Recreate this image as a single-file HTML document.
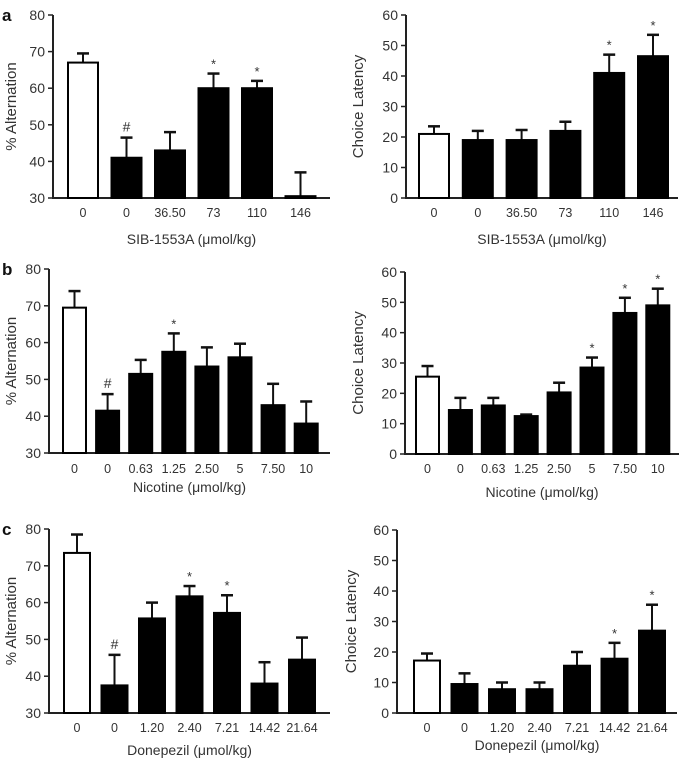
<!DOCTYPE html>
<html><head><meta charset="utf-8"><style>
body{margin:0;background:#fff;}
svg{display:block;font-family:"Liberation Sans",Arial,sans-serif;}
</style></head><body>
<svg id="fig" width="685" height="759" viewBox="0 0 685 759"></svg>
<script>
// Panel a
const aCats=["0","0","36.50","73","110","146"];
const aAltVals=[67,41,43,60,60,30.5];
const aAltErr=[69.5,46.5,48,64,62,37];
const aAltMarks=["","#","","*","*",""];
const aLatVals=[21,19,19,22,41,46.5];
const aLatErr=[23.5,22,22.3,25,47,53.5];
const aLatMarks=["","","","","*","*"];
// Panel b
const bCats=["0","0","0.63","1.25","2.50","5","7.50","10"];
const bAltVals=[69.5,41.5,51.5,57.5,53.5,56,43,38];
const bAltErr=[74,46,55.3,62.5,58.7,59.7,48.8,44];
const bAltMarks=["","#","","*","","","",""];
const bLatVals=[25.5,14.5,16,12.5,20.3,28.5,46.5,49];
const bLatErr=[29,18.5,18.5,13,23.5,31.8,51.5,54.5];
const bLatMarks=["","","","","","*","*","*"];
// Panel c
const cCats=["0","0","1.20","2.40","7.21","14.42","21.64"];
const cAltVals=[73.5,37.5,55.7,61.7,57.2,38,44.5];
const cAltErr=[78.5,45.8,60,64.5,62,43.8,50.5];
const cAltMarks=["","#","*".slice(1),"*","*","",""];
const cLatVals=[17.2,9.5,7.8,7.8,15.5,17.8,27];
const cLatErr=[19.5,13,10,10,20,23,35.5];
const cLatMarks=["","","","","","*","*"];
const altTicks=[30,40,50,60,70,80];
const latTicks=[0,10,20,30,40,50,60];

const NS="http://www.w3.org/2000/svg";
const svg=document.getElementById('fig');
function mk(tag,attrs,parent){const e=document.createElementNS(NS,tag);for(const k in attrs)e.setAttribute(k,attrs[k]);(parent||svg).appendChild(e);return e;}

function panel(p){
  const g=mk('g',{});
  
  
  const ymin=p.ticks[0],ymax=p.ticks[p.ticks.length-1];
  const yS=v=>p.bottom-(v-ymin)/(ymax-ymin)*(p.bottom-p.top);
  const xS=i=>p.x0+i*p.step;
  // axes
  const ya=mk('line',{x1:p.ax,y1:p.top,x2:p.ax,y2:p.bottom,stroke:'#222','stroke-width':2},g);
  
  
  const xa=mk('line',{x1:p.ax-1,y1:p.bottom,x2:p.right,y2:p.bottom,stroke:'#222','stroke-width':2},g);
  
  
  p.ticks.forEach(t=>{
    const y=yS(t);
    mk('line',{x1:p.ax-5,y1:y,x2:p.ax,y2:y,stroke:'#222','stroke-width':1.5},g);
    const tl=mk('text',{x:p.ax-8,y:y+5,'text-anchor':'end','font-size':14,fill:'#333'},g);
    tl.textContent=t;
    
    
  });
  p.vals.forEach((v,i)=>{
    const x=xS(i),cx=x+p.w/2;
    const el=mk('line',{x1:cx,y1:yS(v),x2:cx,y2:yS(p.err[i]),stroke:'#111','stroke-width':2},g);
    
    
    mk('line',{x1:cx-6,y1:yS(p.err[i]),x2:cx+6,y2:yS(p.err[i]),stroke:'#111','stroke-width':2.5},g);
    const b=mk('rect',{x:x,y:yS(v),width:p.w,height:p.bottom-yS(v),fill:i===0?'#fff':'#000',stroke:'#000','stroke-width':2},g);
    
    
    if(p.marks[i]){
      const m=mk('text',{x:cx,y:yS(p.err[i])-(p.marks[i]==='*'?5:6),'text-anchor':'middle','font-size':p.marks[i]==='*'?13:14,fill:'#333'},g);
      m.textContent=p.marks[i];
      
      
    }
    const xl=mk('text',{x:cx,y:p.labY,'text-anchor':'middle','font-size':12.5,fill:'#333'},g);
    xl.textContent=p.cats[i];
    
    
  });
  const xt=mk('text',{x:(p.ax+p.right)/2,y:p.titleY,'text-anchor':'middle','font-size':14,fill:'#333'},g);
  xt.textContent=p.xtitle;
  
  
  const cy=(p.top+p.bottom)/2;
  const yt=mk('text',{x:p.ytx,y:cy,'text-anchor':'middle','font-size':15,fill:'#333',transform:`rotate(-90 ${p.ytx} ${cy})`},g);
  yt.textContent=p.ytitle;
  
  
  if(p.letter){
    const lt=mk('text',{x:2,y:p.top+6,'font-size':17,'font-weight':'bold',fill:'#111'},g);
    lt.textContent=p.letter;
    
    
  }
}
const U='SIB-1553A (\u03bcmol/kg)';
panel({name:'panel-a-alternation',letter:'a',cats:aCats,vals:aAltVals,err:aAltErr,marks:aAltMarks,ticks:altTicks,ax:53,right:330,top:15,bottom:198,x0:68,step:43.5,w:30,labY:217,titleY:244,xtitle:U,ytitle:'% Alternation',ytx:16});
panel({name:'panel-a-latency',cats:aCats,vals:aLatVals,err:aLatErr,marks:aLatMarks,ticks:latTicks,ax:406,right:678,top:15,bottom:198,x0:419,step:43.8,w:30,labY:217,titleY:244,xtitle:U,ytitle:'Choice Latency',ytx:363});
panel({name:'panel-b-alternation',letter:'b',cats:bCats,vals:bAltVals,err:bAltErr,marks:bAltMarks,ticks:altTicks,ax:49,right:330,top:269,bottom:453,x0:63,step:33.1,w:23,labY:473,titleY:492,xtitle:'Nicotine (\u03bcmol/kg)',ytitle:'% Alternation',ytx:16});
panel({name:'panel-b-latency',cats:bCats,vals:bLatVals,err:bLatErr,marks:bLatMarks,ticks:latTicks,ax:405,right:679,top:272,bottom:454,x0:416,step:32.9,w:23,labY:473,titleY:497,xtitle:'Nicotine (\u03bcmol/kg)',ytitle:'Choice Latency',ytx:363});
panel({name:'panel-c-alternation',letter:'c',cats:cCats,vals:cAltVals,err:cAltErr,marks:cAltMarks,ticks:altTicks,ax:49,right:330,top:529,bottom:713,x0:64,step:37.5,w:26,labY:732,titleY:755,xtitle:'Donepezil (\u03bcmol/kg)',ytitle:'% Alternation',ytx:16});
panel({name:'panel-c-latency',cats:cCats,vals:cLatVals,err:cLatErr,marks:cLatMarks,ticks:latTicks,ax:397,right:677,top:530,bottom:713,x0:414,step:37.5,w:26,labY:732,titleY:750,xtitle:'Donepezil (\u03bcmol/kg)',ytitle:'Choice Latency',ytx:356});
</script>
</body></html>
